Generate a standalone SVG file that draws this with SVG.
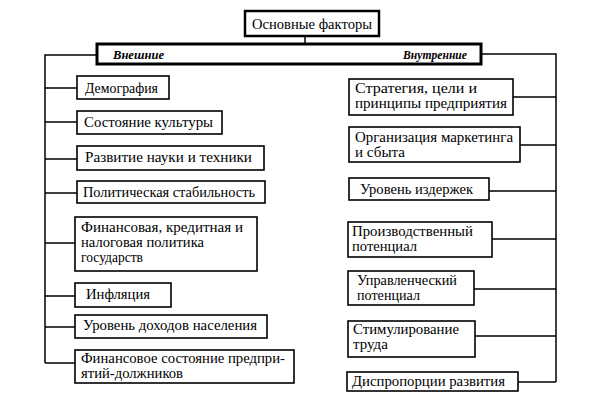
<svg xmlns="http://www.w3.org/2000/svg" width="600" height="400" viewBox="0 0 600 400">
<style>
  .box { fill: #fff; stroke: #000; stroke-width: 1.6; }
  .c { fill: none; stroke: #000; stroke-width: 1.5; }
</style>
<rect width="600" height="400" fill="#fff"/>
<g id="connectors">
  <path class="c" d="M305,36 V45"/>
  <path class="c" d="M97,55 H45 V363 M45,88 H77 M45,122 H77 M45,159 H77 M45,193 H77 M45,243 H75 M45,296 H75 M45,327 H75 M45,363 H75"/>
  <path class="c" d="M481,54 H556 V382 M556,97 H513 M556,145 H520 M556,191 H489 M556,239 H492 M556,289 H474 M556,336 H475 M556,382 H518"/>
</g>
<g font-family="Liberation Serif, DejaVu Serif, serif" font-size="15" fill="#000">
<g id="root">
  <rect x="245" y="11" width="134" height="25" fill="#fff" stroke="#000" stroke-width="2.5"/>
  <text x="252" y="29" textLength="120" lengthAdjust="spacingAndGlyphs">Основные факторы</text>
</g>
<g id="bar">
  <rect x="97" y="44" width="384" height="20" fill="#fff" stroke="#000" stroke-width="3"/>
  <text x="113" y="59" font-size="13.5" font-weight="bold" font-style="italic" textLength="51" lengthAdjust="spacingAndGlyphs">Внешние</text>
  <text x="403" y="59" font-size="13.5" font-weight="bold" font-style="italic" textLength="64" lengthAdjust="spacingAndGlyphs">Внутренние</text>
</g>
<g id="n-demography">
  <rect class="box" x="77" y="76" width="92" height="23"/>
  <text x="85" y="93" textLength="73" lengthAdjust="spacingAndGlyphs">Демография</text>
</g>
<g id="n-culture">
  <rect class="box" x="77" y="111" width="145" height="23"/>
  <text x="84" y="127" textLength="129" lengthAdjust="spacingAndGlyphs">Состояние культуры</text>
</g>
<g id="n-science">
  <rect class="box" x="77" y="146" width="187" height="24"/>
  <text x="85" y="162" textLength="167" lengthAdjust="spacingAndGlyphs">Развитие науки и техники</text>
</g>
<g id="n-politics">
  <rect class="box" x="77" y="181" width="188" height="22"/>
  <text x="83" y="197" textLength="172" lengthAdjust="spacingAndGlyphs">Политическая стабильность</text>
</g>
<g id="n-finance-policy">
  <rect class="box" x="75" y="217" width="182" height="54"/>
  <text x="81" y="232" textLength="162" lengthAdjust="spacingAndGlyphs">Финансовая, кредитная и</text>
  <text x="81" y="247" textLength="123" lengthAdjust="spacingAndGlyphs">налоговая политика</text>
  <text x="81" y="262" textLength="62" lengthAdjust="spacingAndGlyphs">государств</text>
</g>
<g id="n-inflation">
  <rect class="box" x="75" y="283" width="96" height="24"/>
  <text x="86" y="299" textLength="64" lengthAdjust="spacingAndGlyphs">Инфляция</text>
</g>
<g id="n-income">
  <rect class="box" x="75" y="315" width="192" height="23"/>
  <text x="83" y="330" textLength="174" lengthAdjust="spacingAndGlyphs">Уровень доходов населения</text>
</g>
<g id="n-debtors">
  <rect class="box" x="75" y="350" width="219" height="33"/>
  <text x="81" y="363" textLength="204" lengthAdjust="spacingAndGlyphs">Финансовое состояние предпри-</text>
  <text x="81" y="378" textLength="102" lengthAdjust="spacingAndGlyphs">ятий-должников</text>
</g>
<g id="n-strategy">
  <rect class="box" x="349" y="79" width="164" height="36"/>
  <text x="355" y="93" textLength="122" lengthAdjust="spacingAndGlyphs">Стратегия, цели и</text>
  <text x="355" y="108" textLength="152" lengthAdjust="spacingAndGlyphs">принципы предприятия</text>
</g>
<g id="n-marketing">
  <rect class="box" x="349" y="127" width="171" height="35"/>
  <text x="355" y="142" textLength="158" lengthAdjust="spacingAndGlyphs">Организация маркетинга</text>
  <text x="355" y="157" textLength="50" lengthAdjust="spacingAndGlyphs">и сбыта</text>
</g>
<g id="n-costs">
  <rect class="box" x="349" y="178" width="140" height="22"/>
  <text x="360" y="194" textLength="113" lengthAdjust="spacingAndGlyphs">Уровень издержек</text>
</g>
<g id="n-production">
  <rect class="box" x="348" y="222" width="144" height="35"/>
  <text x="352" y="236" textLength="121" lengthAdjust="spacingAndGlyphs">Производственный</text>
  <text x="352" y="251" textLength="65" lengthAdjust="spacingAndGlyphs">потенциал</text>
</g>
<g id="n-management">
  <rect class="box" x="348" y="271" width="126" height="34"/>
  <text x="357" y="285" textLength="100" lengthAdjust="spacingAndGlyphs">Управленческий</text>
  <text x="357" y="300" textLength="63" lengthAdjust="spacingAndGlyphs">потенциал</text>
</g>
<g id="n-stimulation">
  <rect class="box" x="348" y="321" width="127" height="36"/>
  <text x="353" y="334" textLength="106" lengthAdjust="spacingAndGlyphs">Стимулирование</text>
  <text x="353" y="349">труда</text>
</g>
<g id="n-disproportion">
  <rect class="box" x="347" y="372" width="171" height="19"/>
  <text x="352" y="386" textLength="153" lengthAdjust="spacingAndGlyphs">Диспропорции развития</text>
</g>
</g>
</svg>
